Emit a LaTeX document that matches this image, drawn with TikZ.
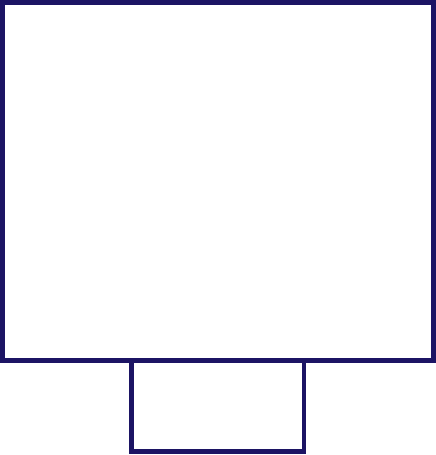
\documentclass[tikz,border=0pt]{standalone}
\definecolor{navy}{RGB}{28,20,100}
\begin{document}
\begin{tikzpicture}[x=1pt,y=-1pt,
  outline/.style={draw=navy,line width=4.5pt,line join=miter}]
\useasboundingbox (0,0) rectangle (436,455);
\draw[outline] (2.5,2.5) rectangle (433.5,360.5);
\draw[outline] (131.5,360.5) rectangle (304,451.5);
\end{tikzpicture}
\end{document}
